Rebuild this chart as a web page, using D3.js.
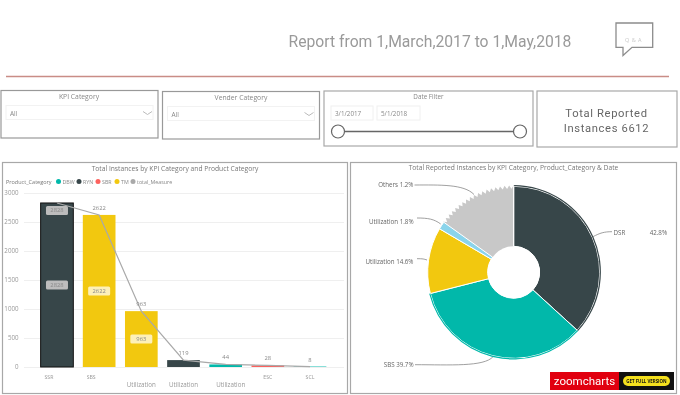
<!DOCTYPE html>
<html><head><meta charset="utf-8">
<script src="https://cdn.jsdelivr.net/npm/d3@7"></script>
<style>html,body{margin:0;background:#fff;overflow:hidden}svg{display:block;filter:blur(.35px)}text{font-family:"Open Sans",sans-serif}</style>
</head><body><svg id="c" width="680" height="395"></svg>
<script>
const barCategories=["SSR","SBS","Utilization","Utilization","Utilization","ESC","SCL"];
const barValues=[2828,2622,963,119,44,28,8];
const barProducts=["RYN","TM","TM","RYN","DBW","SBR","DBW"];
const yTicks=[0,500,1000,1500,2000,2500,3000];
const legendItems=["DBW","RYN","SBR","TM","total_Measure"];
const legendColors=["#01b8aa","#374649","#fd625e","#f2c80f","#a9a9a9"];
const pieLabels=["DSR","SBS 39.7%","Utilization 14.6%","Utilization 1.8%","Others 1.2%"];
const pieShares=[132.5,123.4,44.7,5.2];
const pieColors=["#374649","#01b8aa","#f2c80f","#8ad4eb"];
const othersRadius=[87,83.5,87,83.5,87,83.5,87,83.5,87,83.5,87,83.5,87,83.5,87,83.5,87,83.5,87,83.5,87,83.5,87,83.5,87,83.5,87,83.5,87,83.5,87,83.5,87,83.5,87,83.5,87];
const svg=d3.select("#c");
function box(x,y,w,h,s="#a8a8a8",sw=1.2){svg.append("rect").attr("x",x).attr("y",y).attr("width",w).attr("height",h).attr("fill","#fff").attr("stroke",s).attr("stroke-width",sw);}
function txt(x,y,t,size,fill,anchor="middle",fam){const e=svg.append("text").attr("x",x).attr("y",y).attr("font-size",size).attr("fill",fill).attr("text-anchor",anchor).text(t);if(fam)e.style("font-family",fam);return e;}

// header
txt(430,47,"Report from 1,March,2017 to 1,May,2018",15.7,"#9a9a9a","middle","Roboto");
svg.append("line").attr("x1",6).attr("x2",669).attr("y1",76.5).attr("y2",76.5).attr("stroke","#c98d86").attr("stroke-width",1.3);
svg.append("path").attr("d","M616 23H652.7V47.3H632L623 55.5V47.3H616Z").attr("fill","#fff").attr("stroke","#8c8c8c").attr("stroke-width",1.3);
txt(634.5,42,"Q&A",5.5,"#c8c8c8").attr("letter-spacing",2.4);

// slicers
[[1,90.5,157,47.5,"KPI Category",79],[162.5,91.5,157,47.5,"Vender Category",241]].forEach(([x,y,w,h,t,tx])=>{
  box(x,y,w,h,"#999");
  txt(tx,y+8.5,t,6.8,"#888");
  svg.append("rect").attr("x",x+5).attr("y",y+15).attr("width",147).attr("height",14).attr("fill","#fff").attr("stroke","#f2f2f2");
  txt(x+9,y+25,"All",6.5,"#888","start");
  svg.append("path").attr("d",`M${x+142} ${y+21}l4.5 3l4.5-3`).attr("fill","none").attr("stroke","#bbb");
});
box(324,91,209,55);
txt(428.5,99,"Date Filter",6.3,"#888");
[[331,42,"3/1/2017"],[377,43,"5/1/2018"]].forEach(([x,w,t])=>{
  svg.append("rect").attr("x",x).attr("y",106).attr("width",w).attr("height",14).attr("fill","#fff").attr("stroke","#f0f0f0");
  txt(x+4,116,t,6.3,"#888","start");
});
svg.append("line").attr("x1",338).attr("x2",520).attr("y1",131.5).attr("y2",131.5).attr("stroke","#666").attr("stroke-width",1.5);
[338,520].forEach(x=>svg.append("circle").attr("cx",x).attr("cy",131.5).attr("r",6.5).attr("fill","#fff").attr("stroke","#666").attr("stroke-width",1.2));
box(537,91,140,56);
txt(606.5,117,"Total Reported",11.2,"#666","middle","Roboto").attr("letter-spacing",.65);
txt(606.5,131.5,"Instances 6612",11.2,"#666","middle","Roboto").attr("letter-spacing",.65);

// bar panel
box(2.5,162.5,345,231);
txt(175,170.5,"Total Instances by KPI Category and Product Category",6.7,"#777");
txt(6,183.5,"Product_Category",5.5,"#777","start");
const lx=[58.5,79,98,117,133];
legendItems.forEach((t,i)=>{
  svg.append("circle").attr("cx",lx[i]).attr("cy",181.5).attr("r",2.5).attr("fill",legendColors[i]);
  txt(lx[i]+4,183.5,t,5.3,"#888","start");
});
const x=d3.scaleBand().domain(d3.range(barValues.length)).range([36,331]).paddingInner(.225).paddingOuter(.11);
const y=d3.scaleLinear().domain([0,3000]).range([367,193]);
const yAxis=d3.axisLeft(y).tickValues(yTicks).tickSize(-320).tickPadding(5.5).tickFormat(d3.format("d"));
const ga=svg.append("g").attr("transform","translate(24,0)").call(yAxis);
ga.select(".domain").remove();
ga.selectAll("line").attr("stroke","#efefef");
ga.selectAll("text").attr("font-size",6.2).attr("fill","#999").style("font-family",'"Open Sans",sans-serif');
const colorOf=p=>legendColors[legendItems.indexOf(p)];
svg.selectAll(".bar").data(barValues).join("rect").attr("class","bar")
 .attr("x",(d,i)=>x(i)).attr("width",x.bandwidth()).attr("y",d=>y(d)).attr("height",d=>367-y(d))
 .attr("fill",(d,i)=>colorOf(barProducts[i]));
svg.append("rect").attr("x",x(0)).attr("y",y(barValues[0])).attr("width",x.bandwidth()).attr("height",367-y(barValues[0])).attr("fill","none").attr("stroke","#111").attr("stroke-width",1);
const line=d3.line().x((d,i)=>x(i)+x.bandwidth()/2).y(d=>y(d));
svg.append("path").attr("d",line(barValues)).attr("fill","none").attr("stroke","#a9a9a9").attr("stroke-width",1.2);
function pill(cx,cy,t,fill,col){
  svg.append("rect").attr("x",cx-11).attr("y",cy-4.5).attr("width",22).attr("height",9).attr("rx",1.5).attr("fill",fill);
  txt(cx,cy+2,t,5.8,col);
}
barValues.forEach((v,i)=>{
  const cx=x(i)+x.bandwidth()/2;
  if(v>500) pill(cx,y(v/2),v,i==0?"#bdbdbd":"#fdf0b8","#888");
  if(i===0) pill(cx,y(v)+7.5,v,"#bdbdbd","#888");
  else txt(cx,y(v)-5,v,5.8,"#888");
});
const labY=[379,379,387,387,387,379,379];
const labDx=[-8,-8,0,0,5,0,0];
barCategories.forEach((c,i)=>txt(x(i)+x.bandwidth()/2+labDx[i],labY[i],c,i<2||i>4?5.2:6.2,"#999"));

// pie panel
box(350.5,162.5,326,231);
txt(513.5,170.3,"Total Reported Instances by KPI Category, Product_Category & Date",6.7,"#777");
const cx=513.7,cy=272.3,R=86,Ri=26;
const g=svg.append("g").attr("transform",`translate(${cx},${cy})`);
const toRad=a=>a*Math.PI/180;
const othersStart=toRad(305.6),othersEnd=toRad(360);
const ang=d3.scaleLinear().domain([0,othersRadius.length-1]).range([othersStart,othersEnd]);
g.append("path").attr("d",d3.lineRadial().angle((d,i)=>ang(i)).radius(d=>d)(othersRadius)+"L0,0Z").attr("fill","#c8c8c8");
const arcs=d3.pie().sort(null).value(d=>d).startAngle(0).endAngle(othersStart)(pieShares);
const arcGen=d3.arc().innerRadius(Ri).outerRadius(R);
g.selectAll(".s").data(arcs).join("path").attr("class","s")
 .attr("d",arcGen).attr("fill",(d,i)=>pieColors[i]).attr("stroke","#fff").attr("stroke-width",1);
[0,1].forEach(i=>g.append("path").attr("d",d3.arc().innerRadius(R).outerRadius(R+1.2)(arcs[i])).attr("fill",pieColors[i]));
g.append("circle").attr("r",Ri).attr("fill","#fff");
g.append("line").attr("x1",0).attr("x2",0).attr("y1",-Ri).attr("y2",-R-1).attr("stroke","#fff");
["M593 236.7C600 233 604 231.7 612 231.7","M474 194.5C464 184 440 185 414.5 185","M440.7 224C434 219 428 218 417 218","M427 260C424 259 423 258.7 417 258.7","M493 356.7C484 367 450 364.7 415 364.7"]
 .forEach(d=>svg.append("path").attr("d",d).attr("fill","none").attr("stroke","#888").attr("stroke-width",.8));
txt(613.5,235,pieLabels[0],6.2,"#666","start");
txt(667,235,"42.8%",6.2,"#666","end");
txt(413.5,367,pieLabels[1],6.2,"#666","end");
txt(413.5,264,pieLabels[2],6.2,"#666","end");
txt(413.5,224,pieLabels[3],6.2,"#666","end");
txt(413.5,187,pieLabels[4],6.2,"#666","end");

// watermark
svg.append("rect").attr("x",550).attr("y",372).attr("width",69).attr("height",18).attr("fill","#e1000f");
svg.append("rect").attr("x",619).attr("y",372).attr("width",55).attr("height",18).attr("fill","#111");
txt(584.5,385,"zoomcharts",11.5,"#fff","middle","Roboto");
svg.append("rect").attr("x",623).attr("y",376).attr("width",47).attr("height",10).attr("rx",5).attr("fill","#f5e11e");
txt(646.5,383,"GET FULL VERSION",4.4,"#111").attr("font-weight",700);
</script></body></html>
